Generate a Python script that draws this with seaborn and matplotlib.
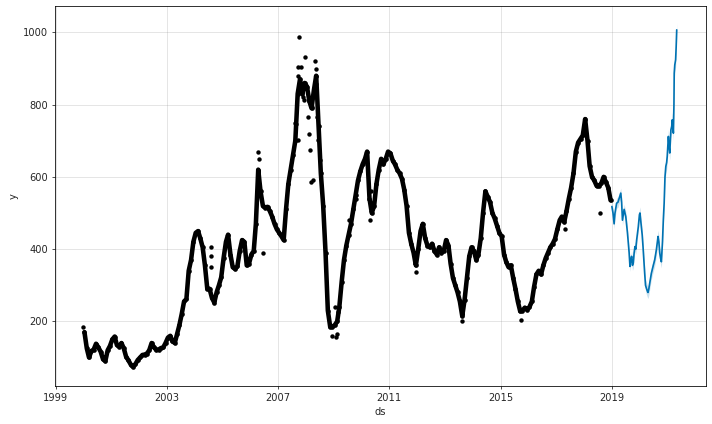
import numpy as np
import pandas as pd
import matplotlib
matplotlib.use("Agg")
import matplotlib.pyplot as plt
import matplotlib.dates as mdates
import seaborn as sns

# ---------------- data ----------------
hist_start = "2000-01"
hist_values = [
    170, 125, 100, 118, 122, 138, 128, 116, 95, 90, 120, 132,      # 2000
    150, 158, 135, 130, 140, 125, 102, 92, 80, 74, 82, 93,         # 2001
    100, 107, 108, 111, 120, 140, 128, 121, 122, 126, 128, 140,    # 2002
    155, 160, 145, 140, 165, 190, 220, 255, 262, 340, 370, 420,    # 2003
    445, 450, 430, 405, 355, 290, 290, 265, 252, 280, 300, 322,    # 2004
    375, 420, 440, 385, 350, 345, 352, 395, 425, 420, 355, 360,    # 2005
    385, 395, 470, 620, 560, 520, 515, 517, 505, 490, 470, 455,    # 2006
    445, 435, 425, 510, 580, 620, 660, 700, 830, 870, 830, 860,    # 2007
    850, 810, 790, 840, 880, 740, 610, 520, 390, 230, 185, 185,    # 2008
    190, 200, 240, 310, 370, 410, 440, 470, 510, 550, 590, 615,    # 2009
    635, 650, 670, 540, 500, 520, 580, 620, 650, 635, 650, 670,    # 2010
    665, 645, 635, 620, 610, 595, 565, 520, 445, 415, 390, 355,    # 2011
    400, 450, 470, 430, 410, 405, 415, 395, 385, 405, 390, 395,    # 2012
    425, 410, 360, 320, 300, 280, 255, 215, 260, 320, 380, 405,    # 2013
    395, 370, 385, 430, 500, 560, 545, 530, 500, 485, 465, 445,    # 2014
    435, 385, 365, 350, 355, 320, 290, 255, 228, 230, 238, 232,    # 2015
    240, 255, 295, 330, 340, 330, 355, 375, 390, 405, 415, 428,    # 2016
    455, 480, 490, 475, 505, 540, 570, 610, 670, 695, 705, 715,    # 2017
    760, 700, 630, 600, 590, 575, 575, 582, 600, 585, 570, 535,    # 2018
]

# scattered observation dots away from the main band (decimal year, value)
extra_years = [2000.00, 2004.58, 2004.59, 2004.60, 2006.28, 2006.31, 2006.45,
               2007.62, 2007.64, 2007.70, 2007.70, 2007.72, 2007.76, 2007.76,
               2007.82, 2007.88, 2007.94, 2007.98, 2008.00, 2008.09, 2008.10,
               2008.14, 2008.19, 2008.23, 2008.25, 2008.33, 2008.36, 2008.37,
               2008.40, 2008.44, 2008.49, 2008.95, 2009.03, 2009.08, 2009.12,
               2009.15, 2009.55, 2009.80, 2010.30, 2010.35, 2011.95, 2013.60,
               2015.73, 2017.31, 2018.57]
extra_values = [185, 405, 380, 350, 670, 650, 388,
                750, 747, 905, 702, 880, 988, 850,
                905, 822, 813, 933, 850, 767, 720,
                675, 587, 794, 590, 922, 900, 858,
                767, 702, 647, 160, 240, 158, 165,
                225, 480, 540, 480, 560, 337, 200,
                205, 455, 500]

fc_years = [2019.00, 2019.04, 2019.08, 2019.11, 2019.17, 2019.22, 2019.26, 2019.32,
            2019.35, 2019.38, 2019.44, 2019.50, 2019.56, 2019.62, 2019.65, 2019.68,
            2019.71, 2019.74, 2019.77, 2019.80, 2019.83, 2019.86, 2019.89, 2019.95,
            2019.99, 2020.01, 2020.06, 2020.09, 2020.12, 2020.15, 2020.18, 2020.21,
            2020.24, 2020.27, 2020.30, 2020.33, 2020.36, 2020.42, 2020.48, 2020.54,
            2020.60, 2020.66, 2020.69, 2020.72, 2020.75, 2020.78, 2020.82, 2020.85,
            2020.88, 2020.91, 2020.94, 2020.97, 2020.99, 2021.03, 2021.06, 2021.08,
            2021.12, 2021.15, 2021.17, 2021.19, 2021.21, 2021.23, 2021.24, 2021.26,
            2021.29, 2021.31, 2021.33]
fc_yhat = [518, 500, 470, 499, 527, 530, 540, 555,
           530, 480, 510, 490, 445, 390, 352, 370,
           380, 355, 362, 390, 407, 400, 425, 462,
           495, 500, 462, 440, 407, 370, 333, 300,
           292, 285, 280, 290, 305, 333, 352, 370,
           398, 435, 420, 390, 375, 365, 420, 480,
           527, 600, 629, 640, 656, 712, 680, 666,
           730, 740, 758, 745, 721, 800, 887, 910,
           924, 960, 1007]
fc_halfwidth = [14, 14, 14, 14, 14, 14, 14, 14,
                14, 14, 14, 14, 14, 14, 14, 14,
                14, 14, 14, 14, 14, 14, 14, 14,
                14, 17, 17, 17, 17, 17, 17, 17,
                17, 17, 17, 17, 17, 17, 17, 17,
                17, 17, 17, 17, 17, 17, 17, 17,
                17, 17, 20, 20, 20, 20, 20, 20,
                20, 20, 20, 20, 20, 20, 20, 20,
                20, 20, 20]

tick_years = [1999, 2003, 2007, 2011, 2015, 2019]


def to_dt(years):
    out = []
    for y in years:
        base = int(np.floor(y))
        out.append(pd.Timestamp(f"{base}-01-01") + pd.Timedelta(days=(y - base) * 365.25))
    return pd.to_datetime(out)


hist = pd.DataFrame({
    "ds": pd.date_range(hist_start, periods=len(hist_values), freq="MS") + pd.Timedelta(days=14),
    "y": hist_values,
})
extra = pd.DataFrame({"ds": to_dt(extra_years), "y": extra_values})
fc = pd.DataFrame({"ds": to_dt(fc_years), "yhat": fc_yhat})
fc["lower"] = fc["yhat"] - np.array(fc_halfwidth)
fc["upper"] = fc["yhat"] + np.array(fc_halfwidth)

# ---------------- figure ----------------
sns.set_style("ticks")
plt.rcParams["font.family"] = ["DejaVu Sans"]
fig, ax = plt.subplots(figsize=(10, 424 / 71.2), dpi=71.2, facecolor="w")
fig.subplots_adjust(left=0.0768, right=0.992, top=0.9858, bottom=0.0896)

sns.lineplot(data=hist, x="ds", y="y", color="k", lw=4.6, sort=False,
             estimator=None, ax=ax)
sns.scatterplot(data=hist, x="ds", y="y", color="k", s=22, linewidth=0, ax=ax)
sns.scatterplot(data=extra, x="ds", y="y", color="k", s=20, linewidth=0, ax=ax)

sns.lineplot(data=fc, x="ds", y="yhat", color="#0072B2", lw=1.7, sort=False,
             estimator=None, ax=ax)
ax.fill_between(fc["ds"], fc["lower"], fc["upper"], color="#0072B2", alpha=0.2,
                linewidth=0)

ax.grid(True, which="major", c="gray", ls="-", lw=1, alpha=0.2)
ax.set_xticks(pd.to_datetime([f"{y}-01-01" for y in tick_years]))
ax.xaxis.set_major_formatter(mdates.DateFormatter("%Y"))
ax.set_xlim(pd.Timestamp("1998-12-20"), pd.Timestamp("2022-05-25"))
ax.set_ylim(21, 1073)
ax.set_xlabel("ds")
ax.set_ylabel("y")
for s in ax.spines.values():
    s.set_color("k")
    s.set_linewidth(0.8)

fig.savefig("out.png", dpi=71.2, facecolor="w")
